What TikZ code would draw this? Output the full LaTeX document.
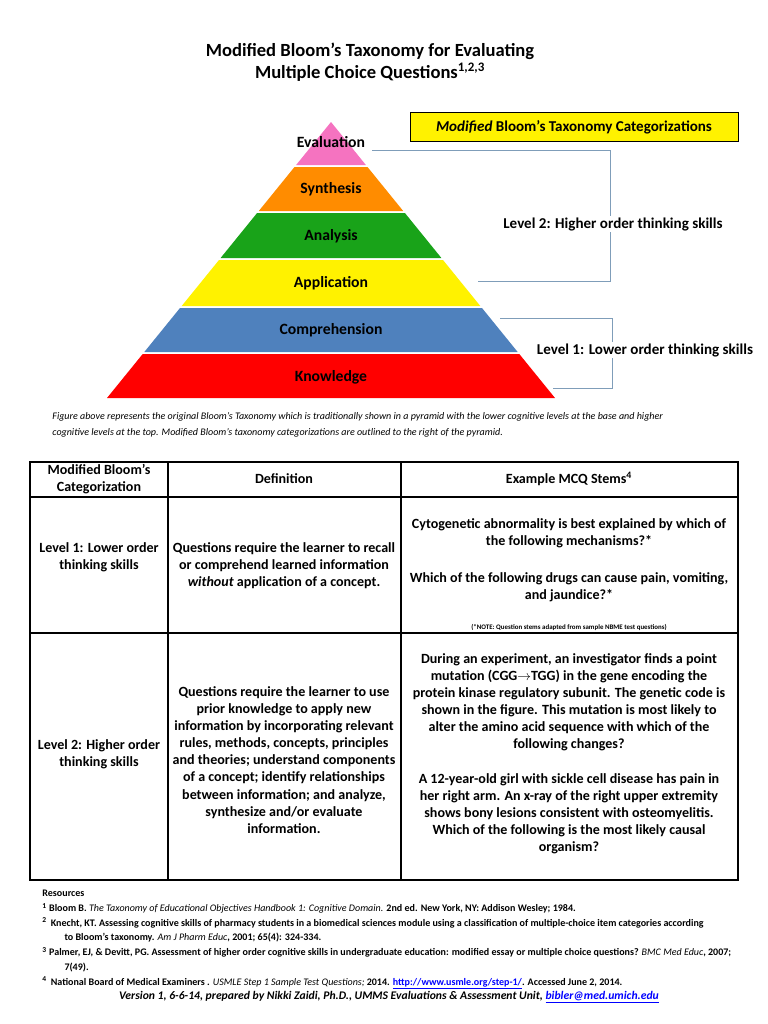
\documentclass[tikz,border=0pt]{standalone}
\usepackage{fontspec}
\setmainfont{Carlito}
\definecolor{brkc}{HTML}{7F9DB9}
\definecolor{blu}{HTML}{4F81BD}
\begin{document}
\begin{tikzpicture}[x=0.797pt,y=-0.797pt,
  lbl/.style={font=\fontsize{12.5}{14}\selectfont\bfseries},
  lvl/.style={font=\fontsize{12}{14}\selectfont\bfseries,fill=white,inner sep=1pt},
  cell/.style={font=\fontsize{11.2}{13.6}\selectfont\bfseries,align=center},
  brk/.style={draw=brkc,line width=0.8pt},
  grid/.style={line width=1.2pt}]
\useasboundingbox (0,0) rectangle (768,1024);
% title
\node[font=\fontsize{14.8}{17.5}\selectfont\bfseries,align=center] (title) at (370,62) {Modified Bloom’s Taxonomy for Evaluating\\Multiple Choice Questions\textsuperscript{1,2,3}};
% pyramid
\fill[magenta!55] (331,122) -- (365.9,165) -- (296.1,165) -- cycle;
\fill[orange!90!yellow] (294.5,167) -- (367.5,167) -- (403.2,211) -- (258.8,211) -- cycle;
\fill[green!60!black!90] (257.1,213) -- (404.9,213) -- (441.4,258) -- (220.6,258) -- cycle;
\fill[yellow] (219,260) -- (443,260) -- (480.3,306) -- (181.7,306) -- cycle;
\fill[blu] (180,308) -- (482,308) -- (517.7,352) -- (144.3,352) -- cycle;
\fill[red] (142.7,354) -- (519.3,354) -- (555,398) -- (107,398) -- cycle;
\node[lbl] (ev) at (331,142) {Evaluation};
\node[lbl] (sy) at (331,189) {Synthesis};
\node[lbl] (an) at (331,236) {Analysis};
\node[lbl] (ap) at (331,283) {Application};
\node[lbl] (co) at (331,330) {Comprehension};
\node[lbl] (kn) at (331,377) {Knowledge};
% categorization box
\node[draw,fill=yellow,minimum width=328*0.797pt,minimum height=29*0.797pt,font=\fontsize{12}{14}\selectfont\bfseries] (cat) at (574,127) {\textit{Modified} Bloom’s Taxonomy Categorizations};
% brackets
\coordinate (b2a) at (372,150); \coordinate (b2b) at (610,150);
\coordinate (b2c) at (610,281); \coordinate (b2d) at (478,281);
\draw[brk] (b2a) -- (b2b) -- (b2c) -- (b2d);
\node[lvl] (l2) at (613,224) {Level 2: Higher order thinking skills};
\coordinate (b1a) at (500,318); \coordinate (b1b) at (612,318);
\coordinate (b1c) at (612,388); \coordinate (b1d) at (553,388);
\draw[brk] (b1a) -- (b1b) -- (b1c) -- (b1d);
\node[lvl] (l1) at (645,350) {Level 1: Lower order thinking skills};
% caption
\node[anchor=north west,align=left,font=\fontsize{8}{12.5}\selectfont\itshape] (cap) at (48,408) {Figure above represents the original Bloom’s Taxonomy which is traditionally shown in a pyramid with the lower cognitive levels at the base and higher\\cognitive levels at the top. Modified Bloom’s taxonomy categorizations are outlined to the right of the pyramid.};
% table
\draw[grid] (30,462) rectangle (738,880);
\draw[grid] (30,497) -- (738,497);
\draw[grid] (30,633) -- (738,633);
\draw[grid] (168,462) -- (168,880);
\draw[grid] (401,462) -- (401,880);
\node[cell] (h1) at (99,479) {Modified Bloom’s\\Categorization};
\node[cell] (h2) at (284,479) {Definition};
\node[cell] (h3) at (569,479) {Example MCQ Stems\textsuperscript{4}};
\node[cell] (r1a) at (99,557) {Level 1: Lower order\\thinking skills};
\node[cell] (r1b) at (284,566) {Questions require the learner to recall\\or comprehend learned information\\\textit{without} application of a concept.};
\node[cell] (r1c) at (569,533) {Cytogenetic abnormality is best explained by which of\\the following mechanisms?*};
\node[cell] (r1d) at (569,587) {Which of the following drugs can cause pain, vomiting,\\and jaundice?*};
\node[font=\fontsize{5.5}{7}\selectfont\bfseries] (note) at (569,627) {(*NOTE: Question stems adapted from sample NBME test questions)};
\node[cell] (r2a) at (99,754) {Level 2: Higher order\\thinking skills};
\node[cell] (r2b) at (284,760) {Questions require the learner to use\\prior knowledge to apply new\\information by incorporating relevant\\rules, methods, concepts, principles\\and theories; understand components\\of a concept; identify relationships\\between information; and analyze,\\synthesize and/or evaluate\\information.};
\node[cell] (r2c) at (569,702) {During an experiment, an investigator finds a point\\mutation (CGG$\rightarrow$TGG) in the gene encoding the\\protein kinase regulatory subunit. The genetic code is\\shown in the figure. This mutation is most likely to\\alter the amino acid sequence with which of the\\following changes?};
\node[cell] (r2d) at (569,814) {A 12-year-old girl with sickle cell disease has pain in\\her right arm. An x-ray of the right upper extremity\\shows bony lesions consistent with osteomyelitis.\\Which of the following is the most likely causal\\organism?};
% resources
\node[anchor=north west,align=left,font=\fontsize{8}{11.7}\selectfont\bfseries] (res) at (38,886) {Resources\\
\textsuperscript{1} Bloom B. \textit{\mdseries The Taxonomy of Educational Objectives Handbook 1: Cognitive Domain.} 2nd ed. New York, NY: Addison Wesley; 1984.\\
\textsuperscript{2}\, Knecht, KT. Assessing cognitive skills of pharmacy students in a biomedical sciences module using a classification of multiple-choice item categories according\\
\hspace*{2.2em}to Bloom’s taxonomy. \textit{\mdseries Am J Pharm Educ}, 2001; 65(4): 324-334.\\
\textsuperscript{3} Palmer, EJ, \& Devitt, PG. Assessment of higher order cognitive skills in undergraduate education: modified essay or multiple choice questions? \textit{\mdseries BMC Med Educ}, 2007;\\
\hspace*{2.2em}7(49).\\
\textsuperscript{4}\, National Board of Medical Examiners . \textit{\mdseries USMLE Step 1 Sample Test Questions;} 2014. \textcolor{blue}{\underline{http://www.usmle.org/step-1/}}. Accessed June 2, 2014.};
\node[font=\fontsize{9.3}{11}\selectfont\bfseries\itshape] (foot) at (389,997) {Version 1, 6-6-14, prepared by Nikki Zaidi, Ph.D., UMMS Evaluations \& Assessment Unit, \textcolor{blue}{\underline{bibler@med.umich.edu}}};
\end{tikzpicture}
\end{document}
